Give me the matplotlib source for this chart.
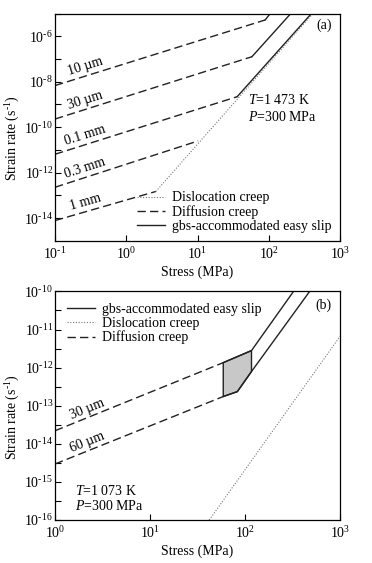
import matplotlib
matplotlib.use("Agg")
import matplotlib.pyplot as plt
import numpy as np
from matplotlib.ticker import FixedLocator, FuncFormatter, NullFormatter

plt.rcParams["font.family"] = ["Liberation Serif", "DejaVu Serif"]
plt.rcParams["mathtext.fontset"] = "custom"
plt.rcParams["mathtext.rm"] = "Liberation Serif"
plt.rcParams["mathtext.it"] = "Liberation Serif:italic"
plt.rcParams["font.size"] = 10

# ---- panel (a): T = 1473 K ----
grain_a = ["10 µm", "30 µm", "0.1 mm", "0.3 mm", "1 mm"]
diff_a_x0 = 0.1
diff_a_y0 = [6.8e-9, 2.3e-10, 6.5e-12, 2.3e-13, 7.9e-15]
diff_a_x1 = [89, 58, 36, 10.2, 2.6]
diff_a_y1 = [5.2e-6, 1.26e-7, 2.2e-9, 2.5e-11, 1.5e-13]
gbs_a_xtop = [105, 204, 398]          # gbs branches for the three finest grain sizes
disl_a_x = [2.6, 417]
disl_a_y = [1.5e-13, 1e-5]

# ---- panel (b): T = 1073 K ----
grain_b = ["30 µm", "60 µm"]
diff_b_x0 = 1.0
diff_b_y0 = [2.2e-14, 2.95e-15]
diff_b_x1 = [59, 59]
diff_b_y1 = [1.35e-12, 1.74e-13]
gbs_b_up_x = [59, 117, 324]
gbs_b_up_y = [1.35e-12, 2.8e-12, 1e-10]
gbs_b_lo_x = [59, 83, 117, 479]
gbs_b_lo_y = [1.74e-13, 2.34e-13, 7.9e-13, 1e-10]
disl_b_x = [42, 1000]
disl_b_y = [1e-16, 6.6e-12]

LC = "#222222"
DASH = (0, (6, 3))
DOT = (0, (1, 1.5))
HYPH = "\u2010"


def pow10(v, p=None):
    e = int(round(np.log10(v)))
    s = str(e).replace("-", HYPH)
    return "$10^{%s}$" % s


def on_line(x0, y0, x1, y1, x):
    t = (np.log10(x) - np.log10(x0)) / (np.log10(x1) - np.log10(x0))
    return 10 ** (np.log10(y0) + t * (np.log10(y1) - np.log10(y0)))


def line_angle(ax, x0, y0, x1, y1):
    p0 = ax.transData.transform((x0, y0))
    p1 = ax.transData.transform((x1, y1))
    return np.degrees(np.arctan2(p1[1] - p0[1], p1[0] - p0[0]))


def style(ax, ylo, yhi, xlo, xhi, ystep):
    ax.set_xscale("log")
    ax.set_yscale("log")
    ax.set_xlim(xlo, xhi)
    ax.set_ylim(ylo, yhi)
    ax.minorticks_off()
    ax.xaxis.set_major_locator(FixedLocator([10.0 ** k for k in range(-1, 4)]))
    ax.xaxis.set_major_formatter(FuncFormatter(pow10))
    lo, hi = int(round(np.log10(ylo))), int(round(np.log10(yhi)))
    ax.yaxis.set_major_locator(FixedLocator(
        [10.0 ** k for k in range(lo, hi + 1) if k % ystep == 0]))
    ax.yaxis.set_major_formatter(FuncFormatter(pow10))
    half = ystep / 2
    ax.yaxis.set_minor_locator(FixedLocator(
        [10.0 ** (k + half) for k in range(lo, hi) if k % ystep == 0]))
    ax.yaxis.set_minor_formatter(NullFormatter())
    ax.tick_params(which="both", direction="in", length=4, width=0.8,
                   labelsize=10)
    ax.tick_params(axis="y", pad=1.5)
    ax.tick_params(axis="x", pad=4)
    for s in ax.spines.values():
        s.set_linewidth(0.9)
    ax.set_xlabel("Stress (MPa)", labelpad=2)
    ax.set_ylabel("Strain rate (s$^{" + HYPH + "1}$)")
    ax.yaxis.set_label_coords(-0.116, 0.45)


fig = plt.figure(figsize=(3.72, 5.63), dpi=100)
ax_a = fig.add_axes([0.148, 0.572, 0.766, 0.404])
ax_b = fig.add_axes([0.148, 0.0764, 0.766, 0.406])

style(ax_a, 1e-15, 1e-5, 0.1, 1000, 2)
style(ax_b, 1e-16, 1e-10, 1, 1000, 1)

# panel (a)
for i, lbl in enumerate(grain_a):
    h_diff, = ax_a.plot([diff_a_x0, diff_a_x1[i]], [diff_a_y0[i], diff_a_y1[i]],
                        color=LC, lw=1, linestyle=DASH)
    if i < len(gbs_a_xtop):
        h_gbs, = ax_a.plot([diff_a_x1[i], gbs_a_xtop[i]], [diff_a_y1[i], 1e-5],
                           color=LC, lw=1)
    xl = 0.28
    yl = on_line(diff_a_x0, diff_a_y0[i], diff_a_x1[i], diff_a_y1[i], xl)
    ang = line_angle(ax_a, diff_a_x0, diff_a_y0[i], diff_a_x1[i], diff_a_y1[i])
    ax_a.annotate(lbl, xy=(xl, yl), xytext=(0, 2), textcoords="offset points",
                  rotation=ang, rotation_mode="anchor", ha="center", va="bottom")
h_disl, = ax_a.plot(disl_a_x, disl_a_y, color="#777777", lw=0.8, linestyle=DOT)

ax_a.text(0.678, 0.62, r"$\mathit{T}$=1 473 K", transform=ax_a.transAxes,
          va="center")
ax_a.text(0.678, 0.546, r"$\mathit{P}$=300 MPa", transform=ax_a.transAxes,
          va="center")
ax_a.text(0.97, 0.95, "(a)", transform=ax_a.transAxes, ha="right", va="center")
ax_a.legend([h_disl, h_diff, h_gbs],
            ["Dislocation creep", "Diffusion creep", "gbs-accommodated easy slip"],
            loc="lower right", frameon=False, handlelength=2.0, handletextpad=0.5,
            labelspacing=0.05, borderaxespad=0.2, fontsize=10)

# panel (b)
ax_b.fill(gbs_b_lo_x[:3] + gbs_b_up_x[:2][::-1],
          gbs_b_lo_y[:3] + gbs_b_up_y[:2][::-1],
          facecolor="#c8c8c8", edgecolor=LC, lw=1)
for i, lbl in enumerate(grain_b):
    hb_diff, = ax_b.plot([diff_b_x0, diff_b_x1[i]], [diff_b_y0[i], diff_b_y1[i]],
                         color=LC, lw=1, linestyle=DASH)
    xl = 2.3
    yl = on_line(diff_b_x0, diff_b_y0[i], diff_b_x1[i], diff_b_y1[i], xl)
    ang = line_angle(ax_b, diff_b_x0, diff_b_y0[i], diff_b_x1[i], diff_b_y1[i])
    ax_b.annotate(lbl, xy=(xl, yl), xytext=(0, 1.5), textcoords="offset points",
                  rotation=ang, rotation_mode="anchor", ha="center", va="bottom")
hb_gbs, = ax_b.plot(gbs_b_up_x, gbs_b_up_y, color=LC, lw=1)
ax_b.plot(gbs_b_lo_x, gbs_b_lo_y, color=LC, lw=1)
hb_disl, = ax_b.plot(disl_b_x, disl_b_y, color="#777777", lw=0.8, linestyle=DOT)

ax_b.text(0.07, 0.128, r"$\mathit{T}$=1 073 K", transform=ax_b.transAxes,
          va="center")
ax_b.text(0.07, 0.061, r"$\mathit{P}$=300 MPa", transform=ax_b.transAxes,
          va="center")
ax_b.text(0.97, 0.94, "(b)", transform=ax_b.transAxes, ha="right", va="center")
ax_b.legend([hb_gbs, hb_disl, hb_diff],
            ["gbs-accommodated easy slip", "Dislocation creep", "Diffusion creep"],
            loc="upper left", frameon=False, handlelength=2.0, handletextpad=0.5,
            labelspacing=0.05, borderaxespad=0.45, fontsize=10)

fig.savefig("out.png", dpi=100)
